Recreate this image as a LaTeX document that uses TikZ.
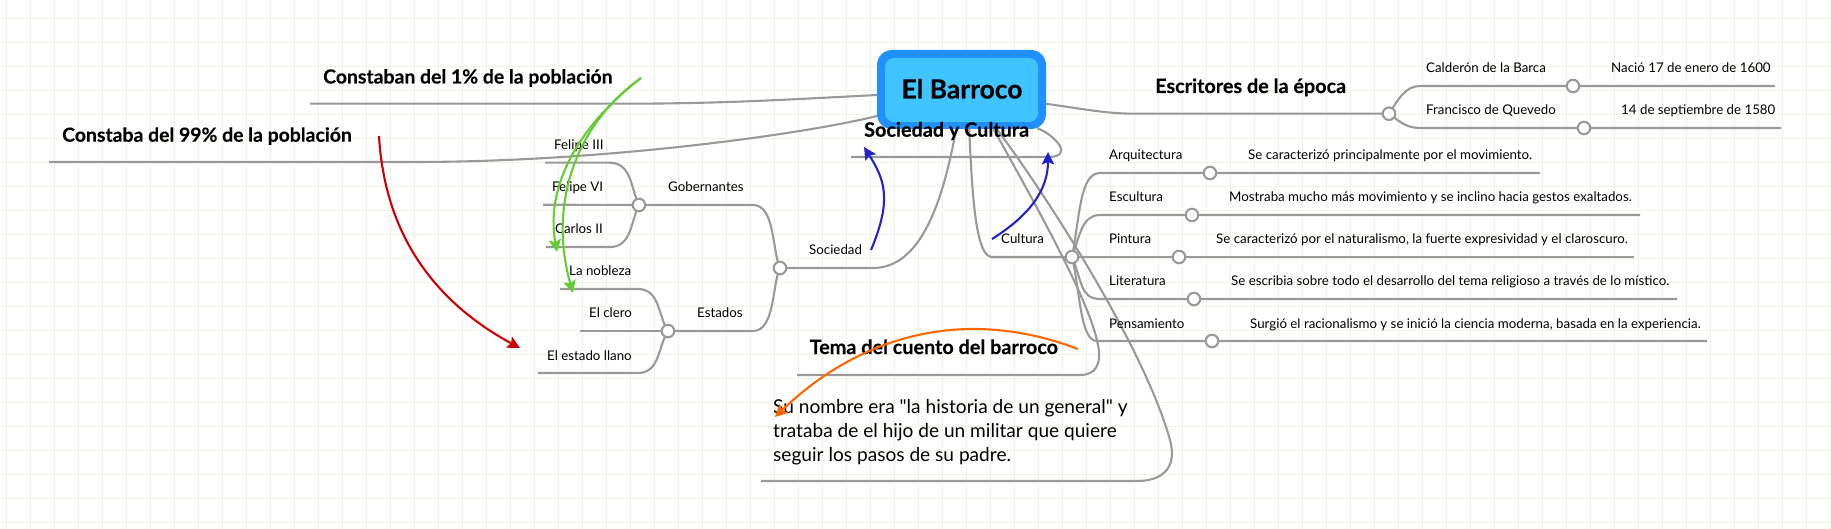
\documentclass[tikz,border=0pt]{standalone}
\usepackage{fontspec}
\setmainfont{Lato}[BoldFeatures={FakeBold=0.25}]
\newfontfamily\parafont{Lato}
\usetikzlibrary{arrows.meta}
\pgfdeclarelayer{gridlayer}
\pgfdeclarelayer{edgelayer}
\pgfsetlayers{gridlayer,edgelayer,main}
\definecolor{gridc}{HTML}{EEF5E4}
\definecolor{connc}{HTML}{999999}
\definecolor{boxedge}{HTML}{2090FF}
\definecolor{boxfill}{HTML}{40C4FF}
\definecolor{arrblue}{HTML}{2222CC}
\definecolor{arrgreen}{HTML}{66CC33}
\definecolor{arrred}{HTML}{CC0000}
\definecolor{arrorange}{HTML}{FF6600}
\tikzset{
  gridline/.style={draw=gridc,line width=1.1pt},
  conn/.style={draw=connc,line width=2.1pt},
  hub/.style={circle,draw=connc,fill=white,line width=2.1pt,minimum size=12.5pt,inner sep=0pt},
  txt/.style={anchor=base west,inner sep=0pt,yshift=-1pt,font=\fontsize{13.3}{16}\selectfont},
  head/.style={anchor=base west,inner sep=0pt,font=\fontsize{19.8}{22}\selectfont\bfseries},
  headpct/.style={anchor=base west,inner sep=0pt,font=\fontsize{19.4}{22}\selectfont\bfseries},
  para/.style={anchor=west,inner sep=0pt,yshift=-0.5pt,align=left,font=\fontsize{19.1}{24}\selectfont\parafont},
  rel/.style={line width=2.1pt,-{Stealth[length=12.5pt,width=12.5pt,inset=2.5pt]}},
}
\begin{document}
\begin{tikzpicture}[x=1pt,y=-1pt]
\useasboundingbox (0,0) rectangle (1831,529);
\begin{pgfonlayer}{gridlayer}
\foreach \gx in {6.5,30.5,...,1831}{\draw[gridline] (\gx,0) -- (\gx,529);}
\foreach \gy in {18.5,42.5,...,529}{\draw[gridline] (0,\gy) -- (1831,\gy);}
\end{pgfonlayer}
% central topic
\draw[fill=boxedge,draw=none,rounded corners=15pt] (877,50) rectangle (1046,129);
\node[draw=none,fill=boxfill,rounded corners=9pt,minimum width=153pt,minimum height=64pt,inner sep=0pt] (root) at (961.5,90) {};
\node[anchor=base,inner sep=0pt,font=\fontsize{26.4}{30}\selectfont\bfseries] (rootlabel) at (962,98.5) {El Barroco};
% hubs
\node[hub] (hGob) at (639,205) {};
\node[hub] (hSoc) at (780,268) {};
\node[hub] (hEst) at (668,331) {};
\node[hub] (hCul) at (1072,257) {};
\node[hub] (hEsc) at (1389,113.7) {};
\node[hub] (hCal) at (1573,86) {};
\node[hub] (hQue) at (1584,128) {};
\node[hub] (hArq) at (1210,173) {};
\node[hub] (hEsl) at (1192,215) {};
\node[hub] (hPin) at (1179,257) {};
\node[hub] (hLit) at (1194,299) {};
\node[hub] (hPen) at (1212,341) {};
% free ends
\coordinate (eCon1) at (310,103.7);
\coordinate (eCon99) at (49,162);
\coordinate (eF3) at (545,162.7);
\coordinate (eF6) at (543,204.7);
\coordinate (eC2) at (546,247);
\coordinate (eNob) at (560,289);
\coordinate (eCle) at (580,331);
\coordinate (eLla) at (538,373);
\coordinate (eSyC) at (851,157);
\coordinate (eTem) at (797,375);
\coordinate (eSu) at (761,481);
\coordinate (eCal) at (1775,86);
\coordinate (eQue) at (1781,128);
\coordinate (eArq) at (1540,173);
\coordinate (eEsl) at (1640,215);
\coordinate (ePin) at (1634,257);
\coordinate (eLit) at (1677,299);
\coordinate (ePen) at (1707,341);
% connectors
\begin{pgfonlayer}{edgelayer}
\draw[conn] (877,95) .. controls (780,100) and (720,103.7) .. (620,103.7) -- (eCon1);
\draw[conn] (877,116) .. controls (800,135) and (600,162) .. (415,162) -- (eCon99);
\draw[conn] (1040,103) .. controls (1085,109) and (1105,113.7) .. (1135,113.7) -- (hEsc.center);
\draw[conn] (1037,128) .. controls (1055,135) and (1075,157) .. (1048,157) -- (eSyC);
\draw[conn] (hGob.center) .. controls (631,190) and (632,162.7) .. (610,162.7) -- (eF3);
\draw[conn] (hGob.center) -- (eF6);
\draw[conn] (hGob.center) .. controls (631,220) and (632,247) .. (610,247) -- (eC2);
\draw[conn] (hSoc.center) .. controls (772,250) and (775,205) .. (753,205) -- (hGob.center);
\draw[conn] (hSoc.center) .. controls (772,285) and (775,331) .. (753,331) -- (hEst.center);
\draw[conn] (hEst.center) .. controls (658,316) and (660,289) .. (638,289) -- (eNob);
\draw[conn] (hEst.center) -- (eCle);
\draw[conn] (hEst.center) .. controls (658,346) and (660,373) .. (638,373) -- (eLla);
\draw[conn] (hSoc.center) -- (873,268) .. controls (925,268) and (945,190) .. (957,125);
\draw[conn] (969,125) .. controls (972,190) and (975,257) .. (992,257) -- (hCul.center);
\draw[conn] (993,128) .. controls (1030,195) and (1090,300) .. (1098,345) .. controls (1102,365) and (1095,375) .. (1080,375) -- (eTem);
\draw[conn] (996,128) .. controls (1050,200) and (1145,350) .. (1170,440) .. controls (1178,470) and (1160,481) .. (1137,481) -- (eSu);
\draw[conn] (hEsc.center) .. controls (1398,100) and (1405,86) .. (1420,86) -- (hCal.center) -- (eCal);
\draw[conn] (hEsc.center) .. controls (1398,120) and (1405,128) .. (1420,128) -- (hQue.center) -- (eQue);
\draw[conn] (hCul.center) .. controls (1080,215) and (1080,173) .. (1100,173) -- (hArq.center) -- (eArq);
\draw[conn] (hCul.center) .. controls (1080,235) and (1082,215) .. (1100,215) -- (hEsl.center) -- (eEsl);
\draw[conn] (hCul.center) -- (hPin.center) -- (ePin);
\draw[conn] (hCul.center) .. controls (1082,280) and (1080,299) .. (1100,299) -- (hLit.center) -- (eLit);
\draw[conn] (hCul.center) .. controls (1080,290) and (1080,341) .. (1097,341) -- (hPen.center) -- (ePen);
\end{pgfonlayer}
% headings
\node[headpct] (tCon1) at (323,83.5) {Constaban del 1\% de la población};
\node[headpct] (tCon99) at (62,141.7) {Constaba del 99\% de la población};
\node[head] (tEsc) at (1155,93) {Escritores de la época};
\node[head] (tSyC) at (864,136.7) {Sociedad y Cultura};
\node[head] (tTem) at (809.5,354) {Tema del cuento del barroco};
\node[para] (tSu) at (773,432) {Su nombre era "la historia de un general" y\\trataba de el hijo de un militar que quiere\\seguir los pasos de su padre.};
% small labels
\node[txt] (tF3) at (554,149) {Felipe III};
\node[txt] (tF6) at (552,191) {Felipe VI};
\node[txt] (tC2) at (555,233) {Carlos II};
\node[txt] (tNob) at (569,275) {La nobleza};
\node[txt] (tCle) at (589,317) {El clero};
\node[txt] (tLla) at (547,359) {El estado llano};
\node[txt] (tGob) at (668,191) {Gobernantes};
\node[txt] (tEst) at (697,317) {Estados};
\node[txt] (tSoc) at (809,254) {Sociedad};
\node[txt] (tCul) at (1001,243) {Cultura};
\node[txt] (tCal) at (1426,72) {Calderón de la Barca};
\node[txt] (tNac) at (1611,72) {Nació 17 de enero de 1600};
\node[txt] (tQue) at (1426,114) {Francisco de Quevedo};
\node[txt] (tSep) at (1621,114) {14 de septiembre de 1580};
\node[txt] (tArq) at (1109,159) {Arquitectura};
\node[txt] (tEsl) at (1109,201) {Escultura};
\node[txt] (tPin) at (1109,243) {Pintura};
\node[txt] (tLit) at (1109,285) {Literatura};
\node[txt] (tPen) at (1109,327) {Pensamiento};
\node[txt] (dArq) at (1248,159) {Se caracterizó principalmente por el movimiento.};
\node[txt] (dEsl) at (1229,201) {Mostraba mucho más movimiento y se inclino hacia gestos exaltados.};
\node[txt] (dPin) at (1216,243) {Se caracterizó por el naturalismo, la fuerte expresividad y el claroscuro.};
\node[txt] (dLit) at (1231,285) {Se escribia sobre todo el desarrollo del tema religioso a través de lo místico.};
\node[txt] (dPen) at (1250,327) {Surgió el racionalismo y se inició la ciencia moderna, basada en la experiencia.};
% relationship arrows
\coordinate (gStart) at (641,78);
\coordinate (rStart) at (379,136);
\coordinate (bStartA) at (871,250);
\coordinate (bStartB) at (992,239);
\coordinate (oStart) at (1078,349);
\draw[rel,arrgreen] (gStart) .. controls (580,125) and (545,185) .. (557,252);
\draw[rel,arrgreen] (gStart) .. controls (575,125) and (548,205) .. (573,293);
\draw[rel,arrred] (rStart) .. controls (385,240) and (440,305) .. (520,348);
\draw[rel,arrblue] (bStartA) .. controls (892,200) and (885,180) .. (864,147);
\draw[rel,arrblue] (bStartB) .. controls (1030,215) and (1048,190) .. (1048,152);
\draw[rel,arrorange] (oStart) .. controls (965,306) and (860,335) .. (775,417);
\end{tikzpicture}
\end{document}
